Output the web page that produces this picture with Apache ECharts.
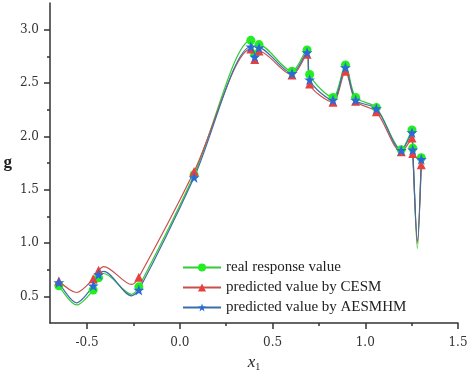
<!DOCTYPE html>
<html>
<head>
<meta charset="utf-8">
<script src="https://cdn.jsdelivr.net/npm/echarts@6/dist/echarts.min.js"></script>
<style>
  html, body { margin: 0; padding: 0; background: #fff; }
  #chart { width: 474px; height: 377px; }
</style>
</head>
<body>
<div id="chart"></div>
<script>
// sample points (with markers)
const xSample = [-0.652, -0.467, -0.438, -0.221, 0.077, 0.383, 0.404, 0.427, 0.605, 0.686, 0.700,
  0.826, 0.893, 0.948, 1.060, 1.194, 1.252, 1.256, 1.302];
const realVals = [0.60, 0.56, 0.675, 0.59, 1.64, 2.90, 2.77, 2.86, 2.61, 2.81, 2.58,
  2.365, 2.67, 2.365, 2.27, 1.875, 2.06, 1.89, 1.80];
const cesmVals = [0.645, 0.665, 0.745, 0.68, 1.67, 2.82, 2.72, 2.80, 2.575, 2.77, 2.49,
  2.32, 2.61, 2.33, 2.23, 1.855, 1.985, 1.84, 1.735];
const aesmVals = [0.63, 0.60, 0.705, 0.56, 1.615, 2.84, 2.745, 2.83, 2.59, 2.785, 2.53,
  2.34, 2.645, 2.34, 2.26, 1.87, 2.035, 1.875, 1.785];

// extra curve points (no marker)
const xCurve = [-0.557, -0.41, -0.26, 1.281];
const realCurve = [0.42, 0.715, 0.52, 0.95];
const cesmCurve = [0.537, 0.78, 0.612, 1.0];
const aesmCurve = [0.44, 0.735, 0.506, 1.02];

const yMajor = [0.5, 1.0, 1.5, 2.0, 2.5, 3.0];
const yMinor = [0.75, 1.25, 1.75, 2.25, 2.75];
const xMajor = [-0.5, 0, 0.5, 1.0, 1.5];
const xMinor = [-0.25, 0.25, 0.75, 1.25];

const STAR = 'path://M12,0 L14.9,8.1 L23.4,8.1 L16.5,13.1 L19.1,21.3 L12,16.3 L4.9,21.3 L7.5,13.1 L0.6,8.1 L9.1,8.1 Z';
const SERIF = 'Liberation Serif';

function buildData(vals, curve) {
  const pts = xSample.map((x, i) => ({ value: [x, vals[i]] }));
  xCurve.forEach((x, i) => pts.push({ value: [x, curve[i]], symbol: 'none' }));
  return pts.sort((a, b) => a.value[0] - b.value[0]);
}

const axisLineStyle = { color: '#333', width: 1.5 };

function lineSeries(name, vals, curve, lineColor, markColor, symbol, size) {
  return {
    name,
    type: 'line',
    data: buildData(vals, curve),
    smooth: 0.3,
    symbol,
    symbolSize: size,
    showAllSymbol: true,
    lineStyle: { color: lineColor, width: 1.2 },
    itemStyle: { color: markColor },
  };
}

const chart = echarts.init(document.getElementById('chart'));
chart.setOption({
  animation: false,
  backgroundColor: '#fff',
  grid: { left: 50, right: 16, top: 3, bottom: 46 },
  legend: {
    orient: 'vertical',
    left: 177,
    top: 255,
    itemWidth: 38,
    itemHeight: 10,
    itemGap: 5,
    textStyle: { fontFamily: SERIF, fontSize: 15, color: '#222' },
  },
  xAxis: [
    {
      type: 'value',
      min: -0.7,
      max: 1.5,
      name: '{a|x}{b|1}',
      nameLocation: 'middle',
      nameGap: 28,
      nameTextStyle: {
        rich: {
          a: { fontFamily: SERIF, fontStyle: 'italic', fontSize: 17, color: '#222' },
          b: { fontFamily: SERIF, fontSize: 10, color: '#222', padding: [9, 0, 0, 0] },
        },
      },
      axisLine: { onZero: false, lineStyle: axisLineStyle },
      axisTick: { customValues: xMajor, length: 6, lineStyle: axisLineStyle },
      axisLabel: {
        customValues: xMajor,
        margin: 14,
        fontFamily: 'DejaVu Serif',
        fontSize: 12,
        color: '#333',
        formatter: (v) => v.toFixed(1),
      },
      splitLine: { show: false },
    },
    {
      type: 'value',
      min: -0.7,
      max: 1.5,
      position: 'bottom',
      axisLine: { show: false, onZero: false },
      axisTick: { customValues: xMinor, length: 3, lineStyle: axisLineStyle },
      axisLabel: { show: false },
      splitLine: { show: false },
    },
  ],
  yAxis: [
    {
      type: 'value',
      min: 0.25,
      max: 3.25,
      name: 'g',
      nameLocation: 'middle',
      nameRotate: 0,
      nameGap: 38,
      nameTextStyle: { fontFamily: SERIF, fontSize: 17, fontWeight: 'bold', color: '#222' },
      axisLine: { show: true, onZero: false, lineStyle: axisLineStyle },
      axisTick: { customValues: yMajor, length: 6, lineStyle: axisLineStyle },
      axisLabel: {
        customValues: yMajor,
        margin: 11,
        fontFamily: 'DejaVu Serif',
        fontSize: 12,
        color: '#333',
        formatter: (v) => v.toFixed(1),
      },
      splitLine: { show: false },
    },
    {
      type: 'value',
      min: 0.25,
      max: 3.25,
      position: 'left',
      axisLine: { show: false, onZero: false },
      axisTick: { customValues: yMinor, length: 3, lineStyle: axisLineStyle },
      axisLabel: { show: false },
      splitLine: { show: false },
    },
  ],
  series: [
    lineSeries('real response value', realVals, realCurve, '#33cc33', '#22ee22', 'circle', 9),
    lineSeries('predicted value by CESM', cesmVals, cesmCurve, '#c8504f', '#e8403c', 'triangle', 9),
    lineSeries('predicted value by AESMHM', aesmVals, aesmCurve, '#3c6ea8', '#2a6ad8', STAR, 11),
  ],
});
</script>
</body>
</html>
